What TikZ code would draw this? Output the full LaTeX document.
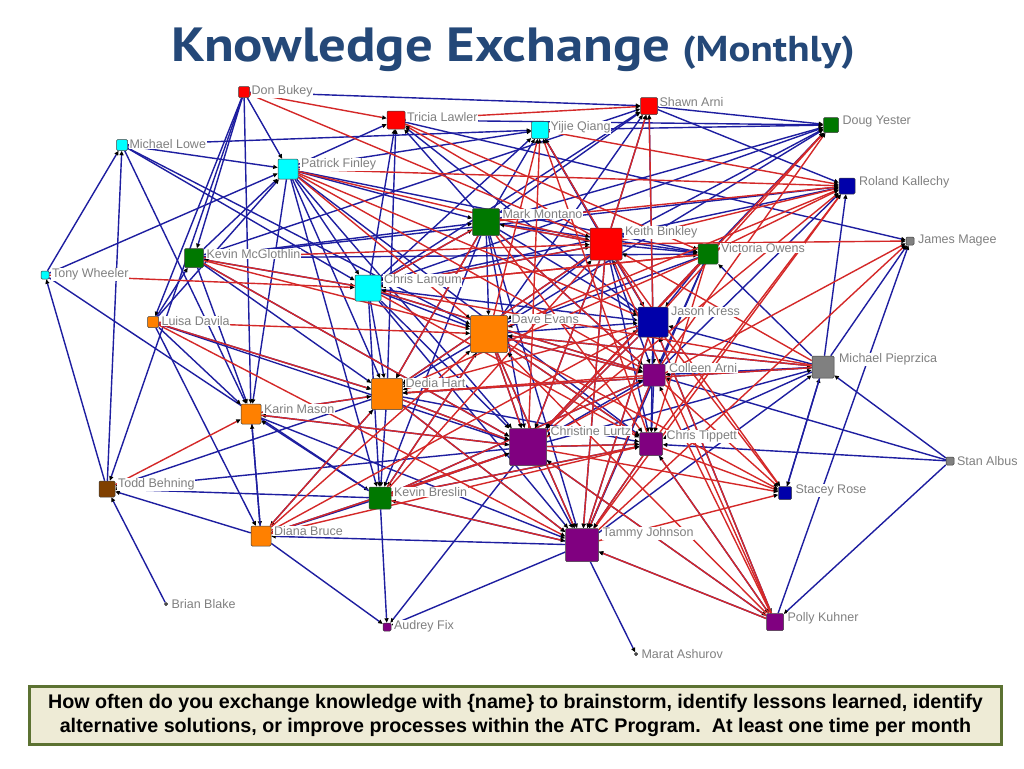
\documentclass[tikz,border=0pt]{standalone}
\usepackage{fontspec}
\setmainfont{Liberation Sans}
\newfontfamily\titlefont{PT Sans}
\newfontfamily\boxfont{Liberation Sans}
\usetikzlibrary{arrows.meta}
\pgfdeclarelayer{bg}
\pgfsetlayers{bg,main}
\definecolor{eb}{RGB}{30,30,160}
\definecolor{er}{RGB}{212,40,40}
\definecolor{ttl}{RGB}{36,72,120}
\definecolor{boxfill}{RGB}{238,235,214}
\definecolor{boxline}{RGB}{92,114,50}
\definecolor{cred}{RGB}{255,0,0}
\definecolor{ccyan}{RGB}{0,255,255}
\definecolor{cgreen}{RGB}{0,120,0}
\definecolor{cnavy}{RGB}{0,0,170}
\definecolor{corange}{RGB}{255,128,0}
\definecolor{cpurple}{RGB}{128,0,128}
\definecolor{cgray}{RGB}{128,128,128}
\definecolor{cbrown}{RGB}{128,64,0}
\definecolor{labgray}{RGB}{128,128,128}
\begin{document}
\begin{tikzpicture}[x=1pt,y=-1pt,
  sq/.style={draw=black!75,line width=0.5pt,rounded corners=1.2pt,inner sep=0pt,minimum size=#1},
  lab/.style={anchor=west,inner sep=0.6pt,fill=white,text=labgray,font=\fontsize{12.5}{13}\selectfont},
  be/.style={draw=eb,line width=1.4pt,-{Triangle[length=4.5pt,width=4pt,color=black]}},
  re/.style={draw=er,line width=1.4pt,-{Triangle[length=4.5pt,width=4pt,color=black]}}]
\useasboundingbox (0,0) rectangle (1024,768);
\begin{pgfonlayer}{bg}
\fill[white] (0,0) rectangle (1024,768);
\end{pgfonlayer}

% title
\node[anchor=base,text=ttl,inner sep=0pt] (title) at (513,62)
  {\titlefont\bfseries\fontsize{48}{52}\selectfont\scalebox{1.14}[1]{Knowledge Exchange} {\fontsize{36}{38}\selectfont\scalebox{1.14}[1]{(Monthly)}}};

% nodes
\node[sq=11,fill=cred]    (don) at (244,92) {};
\node[sq=18,fill=cred]    (tri) at (396,120) {};
\node[sq=17,fill=cred]    (sha) at (649,106) {};
\node[sq=17,fill=ccyan]   (yij) at (540,130) {};
\node[sq=15,fill=cgreen]  (dou) at (831,125) {};
\node[sq=11,fill=ccyan]   (mlo) at (122,145) {};
\node[sq=20,fill=ccyan]   (pat) at (288,169) {};
\node[sq=16,fill=cnavy]   (rol) at (847,186) {};
\node[sq=27,fill=cgreen]  (mar) at (486,222) {};
\node[sq=32,fill=cred]    (kei) at (606,244) {};
\node[sq=20,fill=cgreen]  (vic) at (708,254) {};
\node[sq=8,fill=cgray]    (jam) at (910,241) {};
\node[sq=19,fill=cgreen]  (kmc) at (194,258) {};
\node[sq=8,fill=ccyan]    (ton) at (45,275) {};
\node[sq=26,fill=ccyan]   (cla) at (368,288) {};
\node[sq=11,fill=corange] (lui) at (153,322) {};
\node[sq=37,fill=corange] (dav) at (489,334) {};
\node[sq=30,fill=cnavy]   (jas) at (653,322) {};
\node[sq=22,fill=cgray]   (mpi) at (823,367) {};
\node[sq=22,fill=cpurple] (col) at (654,375) {};
\node[sq=31,fill=corange] (ded) at (387,394) {};
\node[sq=20,fill=corange] (kar) at (251,414) {};
\node[sq=37,fill=cpurple] (chr) at (528,447) {};
\node[sq=23,fill=cpurple] (tip) at (651,444) {};
\node[sq=8,fill=cgray]    (sta) at (950,461) {};
\node[sq=16,fill=cbrown]  (tod) at (107,489) {};
\node[sq=13,fill=cnavy]   (sro) at (785,493) {};
\node[sq=22,fill=cgreen]  (kbr) at (380,498) {};
\node[sq=20,fill=corange] (dia) at (261,536) {};
\node[sq=33,fill=cpurple] (tam) at (582,545) {};
\node[sq=3,fill=black!70] (bri) at (166,604) {};
\node[sq=8,fill=cpurple]  (aud) at (387,627) {};
\node[sq=17,fill=cpurple] (pol) at (775,622) {};
\node[sq=3,fill=black!70] (mas) at (636,654) {};

\begin{pgfonlayer}{bg}
% blue connectors
\foreach \a/\b in {don/sha,don/lui,don/tod,don/kar,don/pat,don/kmc,
 mlo/yij,mlo/pat,mlo/cla,mlo/dav,ton/mlo,tod/mlo,ton/pat,tod/ton,ton/kbr,
 pat/tri,cla/tri,mar/tri,ded/tri,tri/dou,tri/jam,jas/tri,
 cla/yij,mar/yij,kei/yij,pat/yij,yij/dou,yij/jas,
 mar/sha,kei/sha,cla/sha,dav/sha,sha/dou,sha/rol,kmc/sha,jas/sha,
 kei/dou,mar/dou,cla/dou,dav/dou,vic/dou,
 mpi/rol,col/rol,cla/rol,kmc/rol,
 mpi/jam,pol/jam,
 mpi/vic,mpi/col,mpi/jas,dav/mpi,chr/mpi,tam/mpi,sro/mpi,mpi/tip,ded/mpi,
 sta/mpi,sta/tip,sta/col,sta/pol,
 mpi/sro,pol/tam,chr/pol,tip/pol,jas/pol,
 tam/mas,dia/aud,kbr/aud,tam/aud,chr/aud,
 bri/tod,kbr/tod,dia/tod,ded/tod,chr/tod,
 kar/dia,dia/kar,kbr/dia,ded/dia,chr/dia,tam/dia,
 lui/kar,kmc/kar,ded/kar,kbr/kar,chr/kar,kar/tam,pat/kar,mlo/kar,
 lui/kmc,lui/pat,lui/chr,lui/ded,lui/dia,
 kmc/pat,kmc/ded,kmc/cla,kmc/mar,kmc/chr,kmc/vic,
 pat/cla,pat/mar,pat/ded,pat/chr,pat/tip,pat/kbr,pat/vic,
 cla/mar,cla/kei,cla/dav,cla/ded,cla/chr,cla/tam,cla/jas,cla/kbr,cla/col,
 mar/kei,mar/dav,mar/vic,mar/jas,mar/ded,mar/chr,mar/tam,mar/col,mar/kbr,
 kei/vic,kei/dav,kei/jas,kei/col,kei/chr,kei/tip,kei/tam,kei/ded,
 vic/jas,vic/dav,vic/col,vic/chr,vic/tam,
 dav/jas,dav/col,dav/ded,dav/chr,dav/tip,dav/tam,dav/kbr,
 jas/col,jas/chr,jas/tip,jas/tam,
 col/chr,col/tip,col/tam,col/kbr,
 ded/chr,ded/tip,ded/tam,ded/kbr,
 chr/tip,chr/tam,chr/kbr,tip/tam,tip/kbr,tam/kbr}
  \draw[be] (\a) -- (\b);
% red connectors
\foreach \a/\b in {don/tri,don/kei,ton/cla,tri/sha,kei/tri,tri/vic,
 jas/yij,dav/yij,chr/yij,tip/yij,
 pat/rol,yij/rol,kei/rol,mar/rol,dav/rol,chr/rol,tam/rol,vic/rol,tip/rol,
 jas/dou,col/dou,chr/dou,
 kei/jam,tam/jam,chr/jam,
 kei/sha,jas/sha,
 pat/dav,pat/kei,pat/col,pat/jas,
 cla/kmc,kmc/dav,kmc/chr,kmc/kei,
 lui/dav,lui/ded,lui/tam,
 tod/kar,kar/ded,kar/chr,
 dia/ded,dia/chr,dia/dav,dia/jas,dia/tip,
 kbr/dav,kbr/kei,kbr/chr,kbr/tam,kbr/tip,kbr/col,
 pol/tam,pol/chr,pol/tip,pol/col,pol/dav,pol/kei,pol/jas,
 tam/sro,chr/sro,tip/sro,col/sro,jas/sro,dav/sro,kei/sro,
 mpi/kei,mpi/dav,mpi/cla,mpi/ded,
 cla/col,cla/tip,cla/vic,
 mar/ded,mar/tip,mar/col,mar/cla,
 kei/ded,kei/chr,kei/tam,kei/cla,kei/mar,
 vic/ded,vic/chr,vic/tip,vic/cla,
 dav/chr,dav/tip,dav/tam,dav/col,
 jas/chr,jas/ded,jas/tam,
 col/ded,col/tam,
 ded/chr,ded/tam,chr/tip,tip/tam}
  \draw[re] (\a) -- (\b);
\end{pgfonlayer}

% labels
\node[lab] (don-l) at ([xshift=1pt,yshift=-5pt]don.north east) {Don Bukey};
\node[lab] (tri-l) at ([xshift=1pt,yshift=-6pt]tri.north east) {Tricia Lawler};
\node[lab] (sha-l) at ([xshift=1pt,yshift=-5pt]sha.north east) {Shawn Arni};
\node[lab] (yij-l) at ([xshift=1pt,yshift=-6pt]yij.north east) {Yijie Qiang};
\node[lab] (dou-l) at ([xshift=3pt,yshift=-4pt]dou.north east) {Doug Yester};
\node[lab] (mlo-l) at ([xshift=1pt,yshift=-5pt]mlo.north east) {Michael Lowe};
\node[lab] (pat-l) at ([xshift=2pt,yshift=-6pt]pat.north east) {Patrick Finley};
\node[lab] (rol-l) at ([xshift=3pt,yshift=-5pt]rol.north east) {Roland Kallechy};
\node[lab] (mar-l) at ([xshift=2pt,yshift=-6pt]mar.north east) {Mark Montano};
\node[lab] (kei-l) at ([xshift=2pt,yshift=-5pt]kei.north east) {Keith Binkley};
\node[lab] (vic-l) at ([xshift=2pt,yshift=-4pt]vic.north east) {Victoria Owens};
\node[lab] (jam-l) at ([xshift=3pt,yshift=-4pt]jam.north east) {James Magee};
\node[lab] (kmc-l) at ([xshift=2pt,yshift=-6pt]kmc.north east) {Kevin McGlothlin};
\node[lab] (ton-l) at ([xshift=2pt,yshift=-4pt]ton.north east) {Tony Wheeler};
\node[lab] (cla-l) at ([xshift=2pt,yshift=-6pt]cla.north east) {Chris Langum};
\node[lab] (lui-l) at ([xshift=2pt,yshift=-5pt]lui.north east) {Luisa Davila};
\node[lab] (dav-l) at ([xshift=3pt,yshift=-4pt]dav.north east) {Dave Evans};
\node[lab] (jas-l) at ([xshift=2pt,yshift=-5pt]jas.north east) {Jason Kress};
\node[lab] (mpi-l) at ([xshift=4pt,yshift=-4pt]mpi.north east) {Michael Pieprzica};
\node[lab] (col-l) at ([xshift=3pt,yshift=-4pt]col.north east) {Colleen Arni};
\node[lab] (ded-l) at ([xshift=2pt,yshift=-5pt]ded.north east) {Dedia Hart};
\node[lab] (kar-l) at ([xshift=2pt,yshift=-5pt]kar.north east) {Karin Mason};
\node[lab] (chr-l) at ([xshift=3pt,yshift=-3pt]chr.north east) {Christine Lurtz};
\node[lab] (tip-l) at ([xshift=3pt,yshift=-4pt]tip.north east) {Chris Tippett};
\node[lab] (sta-l) at ([xshift=2pt,yshift=-4pt]sta.north east) {Stan Albus};
\node[lab] (tod-l) at ([xshift=2pt,yshift=-4pt]tod.north east) {Todd Behning};
\node[lab] (sro-l) at ([xshift=3pt,yshift=-4pt]sro.north east) {Stacey Rose};
\node[lab] (kbr-l) at ([xshift=2pt,yshift=-5pt]kbr.north east) {Kevin Breslin};
\node[lab] (dia-l) at ([xshift=2pt,yshift=-5pt]dia.north east) {Diana Bruce};
\node[lab] (tam-l) at ([xshift=3pt,yshift=-5pt]tam.north east) {Tammy Johnson};
\node[lab] (bri-l) at ([xshift=3pt,yshift=-2pt]bri.north east) {Brian Blake};
\node[lab] (aud-l) at ([xshift=2pt,yshift=-4pt]aud.north east) {Audrey Fix};
\node[lab] (pol-l) at ([xshift=3pt,yshift=-5pt]pol.north east) {Polly Kuhner};
\node[lab] (mas-l) at ([xshift=3pt,yshift=-2pt]mas.north east) {Marat Ashurov};

% question box
\node[draw=boxline,line width=3pt,fill=boxfill,minimum width=972pt,minimum height=58pt,
  inner sep=0pt,align=center,font=\boxfont\bfseries\fontsize{19.7}{24}\selectfont] (q) at (515.5,715.5)
  {\raisebox{-3pt}{\parbox{960pt}{\centering How often do you exchange knowledge with \{name\} to brainstorm, identify lessons learned, identify\\
   alternative solutions, or improve processes within the ATC Program.\ \ At least one time per month}}};
\end{tikzpicture}
\end{document}
